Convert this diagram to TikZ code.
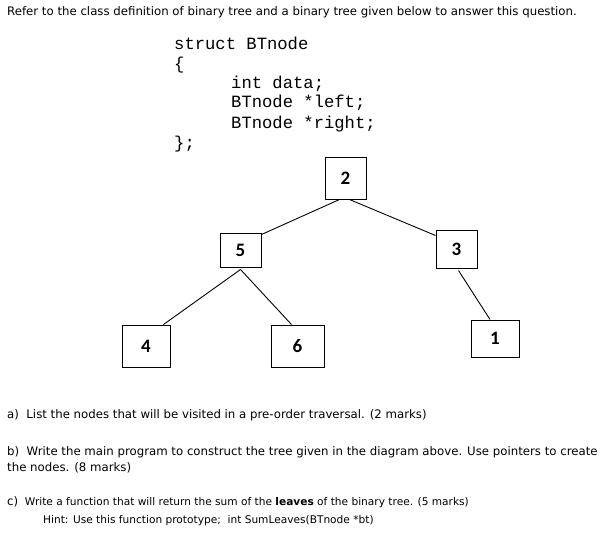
\documentclass[tikz,border=0pt]{standalone}
\usepackage{fontspec}
\setmainfont{DejaVu Sans}
\newfontfamily\codefont{Liberation Mono}
\newfontfamily\numfont{Carlito}
\begin{document}
\begin{tikzpicture}[x=1pt,y=-1pt,
  txt/.style={anchor=base west,inner sep=0pt,font=\fontsize{11.75}{13}\selectfont},
  small/.style={anchor=base west,inner sep=0pt,font=\fontsize{10.6}{12}\selectfont},
  code/.style={anchor=base west,inner sep=0pt,font=\codefont\fontsize{17.2}{20}\selectfont},
  tnode/.style={draw,line width=1pt,inner sep=0pt,font=\numfont\bfseries\fontsize{19}{20}\selectfont},
  edge/.style={line width=0.9pt}]
\useasboundingbox (0,0) rectangle (603,538);
\node[txt] (h) at (7,16) {Refer to the class definition of binary tree and a binary tree given below to answer this question.};
\node[code] (c1) at (174,49) {struct BTnode};
\node[code] (c2) at (174,69) {\{};
\node[code] (c3) at (231,88) {int data;};
\node[code] (c4) at (231,107) {BTnode *left;};
\node[code] (c5) at (231,128) {BTnode *right;};
\node[code] (c6) at (174,148) {\};};
\node[tnode,minimum width=41,minimum height=42] (n2) at (345.5,178) {2};
\node[tnode,minimum width=41,minimum height=34] (n5) at (240.5,250) {5};
\node[tnode,minimum width=41,minimum height=38] (n3) at (456.5,249) {3};
\node[tnode,minimum width=48,minimum height=42] (n4) at (146,346) {4};
\node[tnode,minimum width=53,minimum height=42] (n6) at (297.5,346) {6};
\node[tnode,minimum width=48,minimum height=37] (n1) at (495,338.5) {1};
\draw[edge] ([xshift=-6]n2.south) -- ([yshift=-2]n5.north east);
\draw[edge] ([xshift=4]n2.south) -- ([yshift=-6]n3.north west);
\draw[edge] ([yshift=-2]n5.south) -- ([xshift=-7]n4.north east);
\draw[edge] ([yshift=-2]n5.south) -- ([xshift=-6]n6.north);
\draw[edge] ([xshift=2,yshift=-2]n3.south) -- ([xshift=-5]n1.north);
\node[txt] (qa) at (7,418) {a)\ \ List the nodes that will be visited in a pre-order traversal. (2 marks)};
\node[txt] (qb) at (7,455) {b)\ \ Write the main program to construct the tree given in the diagram above. Use pointers to create};
\node[txt] (qb2) at (7,471) {the nodes. (8 marks)};
\node[small] (qc) at (7,505) {{\fontsize{11.75}{13}\selectfont c)}\ \ Write a function that will return the sum of the \textbf{leaves} of the binary tree. (5 marks)};
\node[small] (hint) at (43,523) {Hint: Use this function prototype;\ \ int SumLeaves(BTnode *bt)};
\end{tikzpicture}
\end{document}
